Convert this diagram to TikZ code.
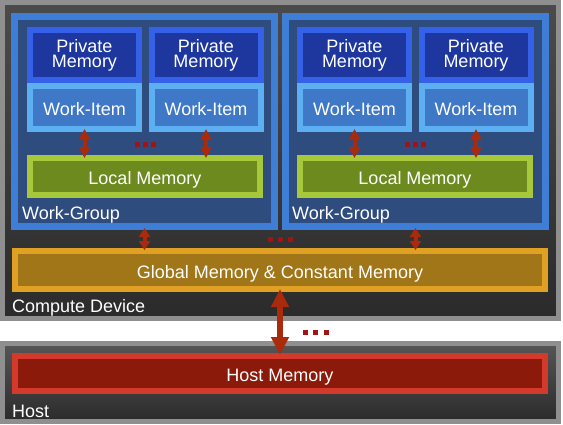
\documentclass[tikz,border=0pt]{standalone}
\usepackage{fontspec}
\setmainfont{Liberation Sans}
\usetikzlibrary{arrows.meta,calc}
\definecolor{cdB}{HTML}{8F8F8F}
\definecolor{cdF}{HTML}{2B2B2B}
\definecolor{wgB}{HTML}{3F7ED6}
\definecolor{wgF}{HTML}{2F4C7E}
\definecolor{pmB}{HTML}{3560E8}
\definecolor{pmF}{HTML}{1E379E}
\definecolor{wiB}{HTML}{5CB0F2}
\definecolor{wiF}{HTML}{3E78C6}
\definecolor{lmB}{HTML}{A6C83A}
\definecolor{lmF}{HTML}{6D8A1F}
\definecolor{gmB}{HTML}{E0A024}
\definecolor{gmF}{HTML}{A07618}
\definecolor{hmB}{HTML}{D33A2C}
\definecolor{hmF}{HTML}{8C1A0A}
\definecolor{arr}{HTML}{AA2A0C}
\definecolor{dotc}{HTML}{A01414}
\begin{document}
\begin{tikzpicture}[x=1pt,y=-1pt,
  box/.style={draw, line width=6pt, inner sep=0pt, text=white, align=center,
    font=\fontsize{18}{15}\selectfont},
  oneline/.style={text height=16.5pt, text depth=0pt},
  outerbox/.style={draw=cdB, line width=5pt, inner sep=0pt, top color=#1, bottom color=cdF},
  wgbox/.style={draw=wgB, fill=wgF, line width=7pt, inner sep=0pt, minimum width=260pt, minimum height=210pt},
  pmbox/.style={box, draw=pmB, fill=pmF, minimum width=109pt, minimum height=50pt},
  wibox/.style={box, oneline, draw=wiB, fill=wiF, minimum width=109pt, minimum height=43pt},
  lmbox/.style={box, oneline, draw=lmB, fill=lmF, minimum width=230pt, minimum height=37pt},
  gmbox/.style={box, oneline, draw=gmB, fill=gmF, minimum width=530pt, minimum height=38pt},
  hmbox/.style={box, oneline, draw=hmB, fill=hmF, minimum width=530pt, minimum height=35pt},
  lbl/.style={text=white, inner sep=0pt, anchor=west, font=\fontsize{18}{14}\selectfont},
  smallarr/.style={draw=arr, line width=4pt, shorten <=-3pt, shorten >=-3pt,
    {Triangle[width=11pt,length=11pt]}-{Triangle[width=11pt,length=11pt]}},
  midarr/.style={draw=arr, line width=4pt, shorten <=-2pt, shorten >=-2pt,
    {Triangle[width=11pt,length=9pt]}-{Triangle[width=11pt,length=9pt]}},
  bigarr/.style={draw=arr, line width=6pt, shorten <=-3pt, shorten >=-2pt,
    {Triangle[width=17pt,length=18pt]}-{Triangle[width=17pt,length=18pt]}},
  dotsq/.style={fill=dotc}
]
\useasboundingbox (0,0) rectangle (563,424);

% outer containers
\node[outerbox=cdF!85!white, minimum width=556pt, minimum height=316pt] (cd) at (280.5,160.5) {};
\node[outerbox=cdF!80!white, minimum width=556pt, minimum height=78pt] (host) at (280.5,382.5) {};

% work-groups
\node[wgbox] (wg1) at (144.5,121.5) {};
\node[wgbox] (wg2) at (415.5,121.5) {};

% work-items and private memories
\node[wibox] (wi11) at (84.5,107.5) {Work-Item};
\node[pmbox] (pm11) at (84.5,55) {Private\\Memory};
\node[wibox] (wi12) at (206,107.5) {Work-Item};
\node[pmbox] (pm12) at (206,55) {Private\\Memory};
\node[wibox] (wi21) at (354.5,107.5) {Work-Item};
\node[pmbox] (pm21) at (354.5,55) {Private\\Memory};
\node[wibox] (wi22) at (476,107.5) {Work-Item};
\node[pmbox] (pm22) at (476,55) {Private\\Memory};

% local memories
\node[lmbox] (lm1) at (145,176.5) {Local Memory};
\node[lmbox] (lm2) at (415,176.5) {Local Memory};

% global & host memory
\node[gmbox] (gm) at (280,270) {Global Memory \& Constant Memory};
\node[hmbox] (hm) at (280,373.5) {Host Memory};

% labels
\node[lbl] (wgl1) at (22,215) {Work-Group};
\node[lbl] (wgl2) at (292,215) {Work-Group};
\node[lbl] (cdl) at (12,307.5) {Compute Device};
\node[lbl] (hostl) at (12,411) {Host};

% connectors
\draw[smallarr] (wi11.south) -- (wi11.south |- lm1.north);
\draw[smallarr] (wi12.south) -- (wi12.south |- lm1.north);
\draw[smallarr] (wi21.south) -- (wi21.south |- lm2.north);
\draw[smallarr] (wi22.south) -- (wi22.south |- lm2.north);
\draw[midarr] (wg1.south) -- (wg1.south |- gm.north);
\draw[midarr] (wg2.south) -- (wg2.south |- gm.north);
\draw[bigarr] (gm.south) -- (gm.south |- hm.north);

% ellipsis dots
\foreach \x in {137,145,153} {\fill[dotsq] (\x-2,142) rectangle ++(4.5,4.5);}
\foreach \x in {407,415,423} {\fill[dotsq] (\x-2,142) rectangle ++(4.5,4.5);}
\foreach \x in {270,280,290} {\fill[dotsq] (\x-2,237) rectangle ++(4.5,4.5);}
\foreach \x in {305,315,326} {\fill[dotsq] (\x-2,330) rectangle ++(4.5,4.5);}
\end{tikzpicture}
\end{document}
